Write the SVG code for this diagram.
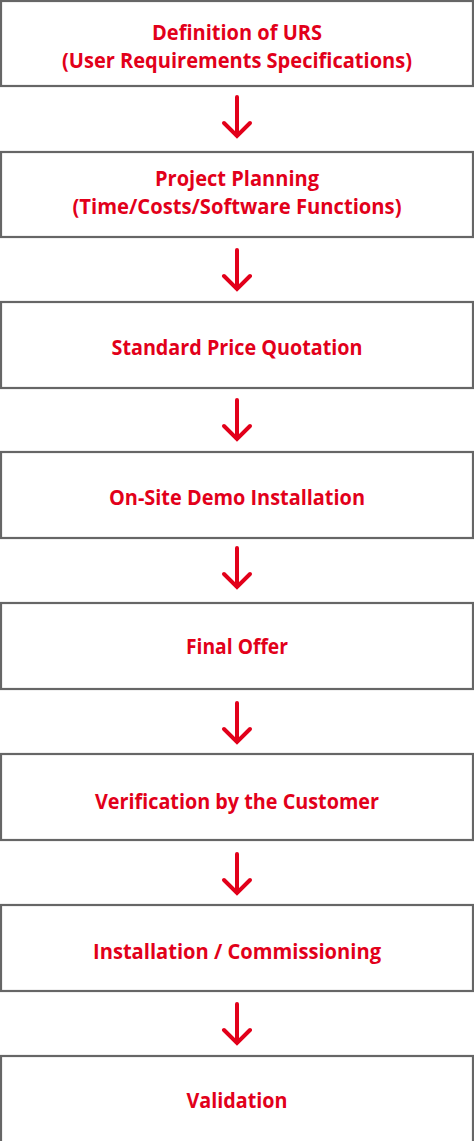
<svg xmlns="http://www.w3.org/2000/svg" width="474" height="1141" viewBox="0 0 474 1141">
<style>
.box{fill:#fff;stroke:#666;stroke-width:2.2}
.t{font-family:"Open Sans","Liberation Sans",sans-serif;font-weight:700;font-size:21.5px;fill:#e2001a;text-anchor:middle}
.arr{fill:none;stroke:#e2001a;stroke-width:4;stroke-linecap:round;stroke-linejoin:miter}
</style>
<rect width="474" height="1141" fill="#fff"/>
<g id="connectors">
<path class="arr" d="M237 97V135M224 123L237 136L250 123"/>
<path class="arr" d="M237 250V288M224 276L237 289L250 276"/>
<path class="arr" d="M237 400V438M224 426L237 439L250 426"/>
<path class="arr" d="M237 548V586M224 574L237 587L250 574"/>
<path class="arr" d="M237 703V741M224 729L237 742L250 729"/>
<path class="arr" d="M237 854V892M224 880L237 893L250 880"/>
<path class="arr" d="M237 1004V1042M224 1030L237 1043L250 1030"/>
</g>
<g id="n1"><rect class="box" x="1" y="1" width="472" height="85"/>
<text class="t" x="237" y="40" textLength="170" lengthAdjust="spacingAndGlyphs">Definition of URS</text>
<text class="t" x="237" y="68" textLength="350" lengthAdjust="spacingAndGlyphs">(User Requirements Specifications)</text></g>
<g id="n2"><rect class="box" x="1" y="152" width="472" height="85"/>
<text class="t" x="237" y="186" textLength="164" lengthAdjust="spacingAndGlyphs">Project Planning</text>
<text class="t" x="237" y="214" textLength="329" lengthAdjust="spacingAndGlyphs">(Time/Costs/Software Functions)</text></g>
<g id="n3"><rect class="box" x="1" y="302" width="472" height="86"/>
<text class="t" x="237" y="355" textLength="251" lengthAdjust="spacingAndGlyphs">Standard Price Quotation</text></g>
<g id="n4"><rect class="box" x="1" y="452" width="472" height="86"/>
<text class="t" x="237" y="505" textLength="256" lengthAdjust="spacingAndGlyphs">On-Site Demo Installation</text></g>
<g id="n5"><rect class="box" x="1" y="603" width="472" height="86"/>
<text class="t" x="237" y="654" textLength="102" lengthAdjust="spacingAndGlyphs">Final Offer</text></g>
<g id="n6"><rect class="box" x="1" y="754" width="472" height="86"/>
<text class="t" x="237" y="809" textLength="284" lengthAdjust="spacingAndGlyphs">Verification by the Customer</text></g>
<g id="n7"><rect class="box" x="1" y="905" width="472" height="86"/>
<text class="t" x="237" y="959" textLength="288" lengthAdjust="spacingAndGlyphs">Installation / Commissioning</text></g>
<g id="n8"><rect class="box" x="1" y="1056" width="472" height="88"/>
<text class="t" x="237" y="1108" textLength="101" lengthAdjust="spacingAndGlyphs">Validation</text></g>
</svg>
